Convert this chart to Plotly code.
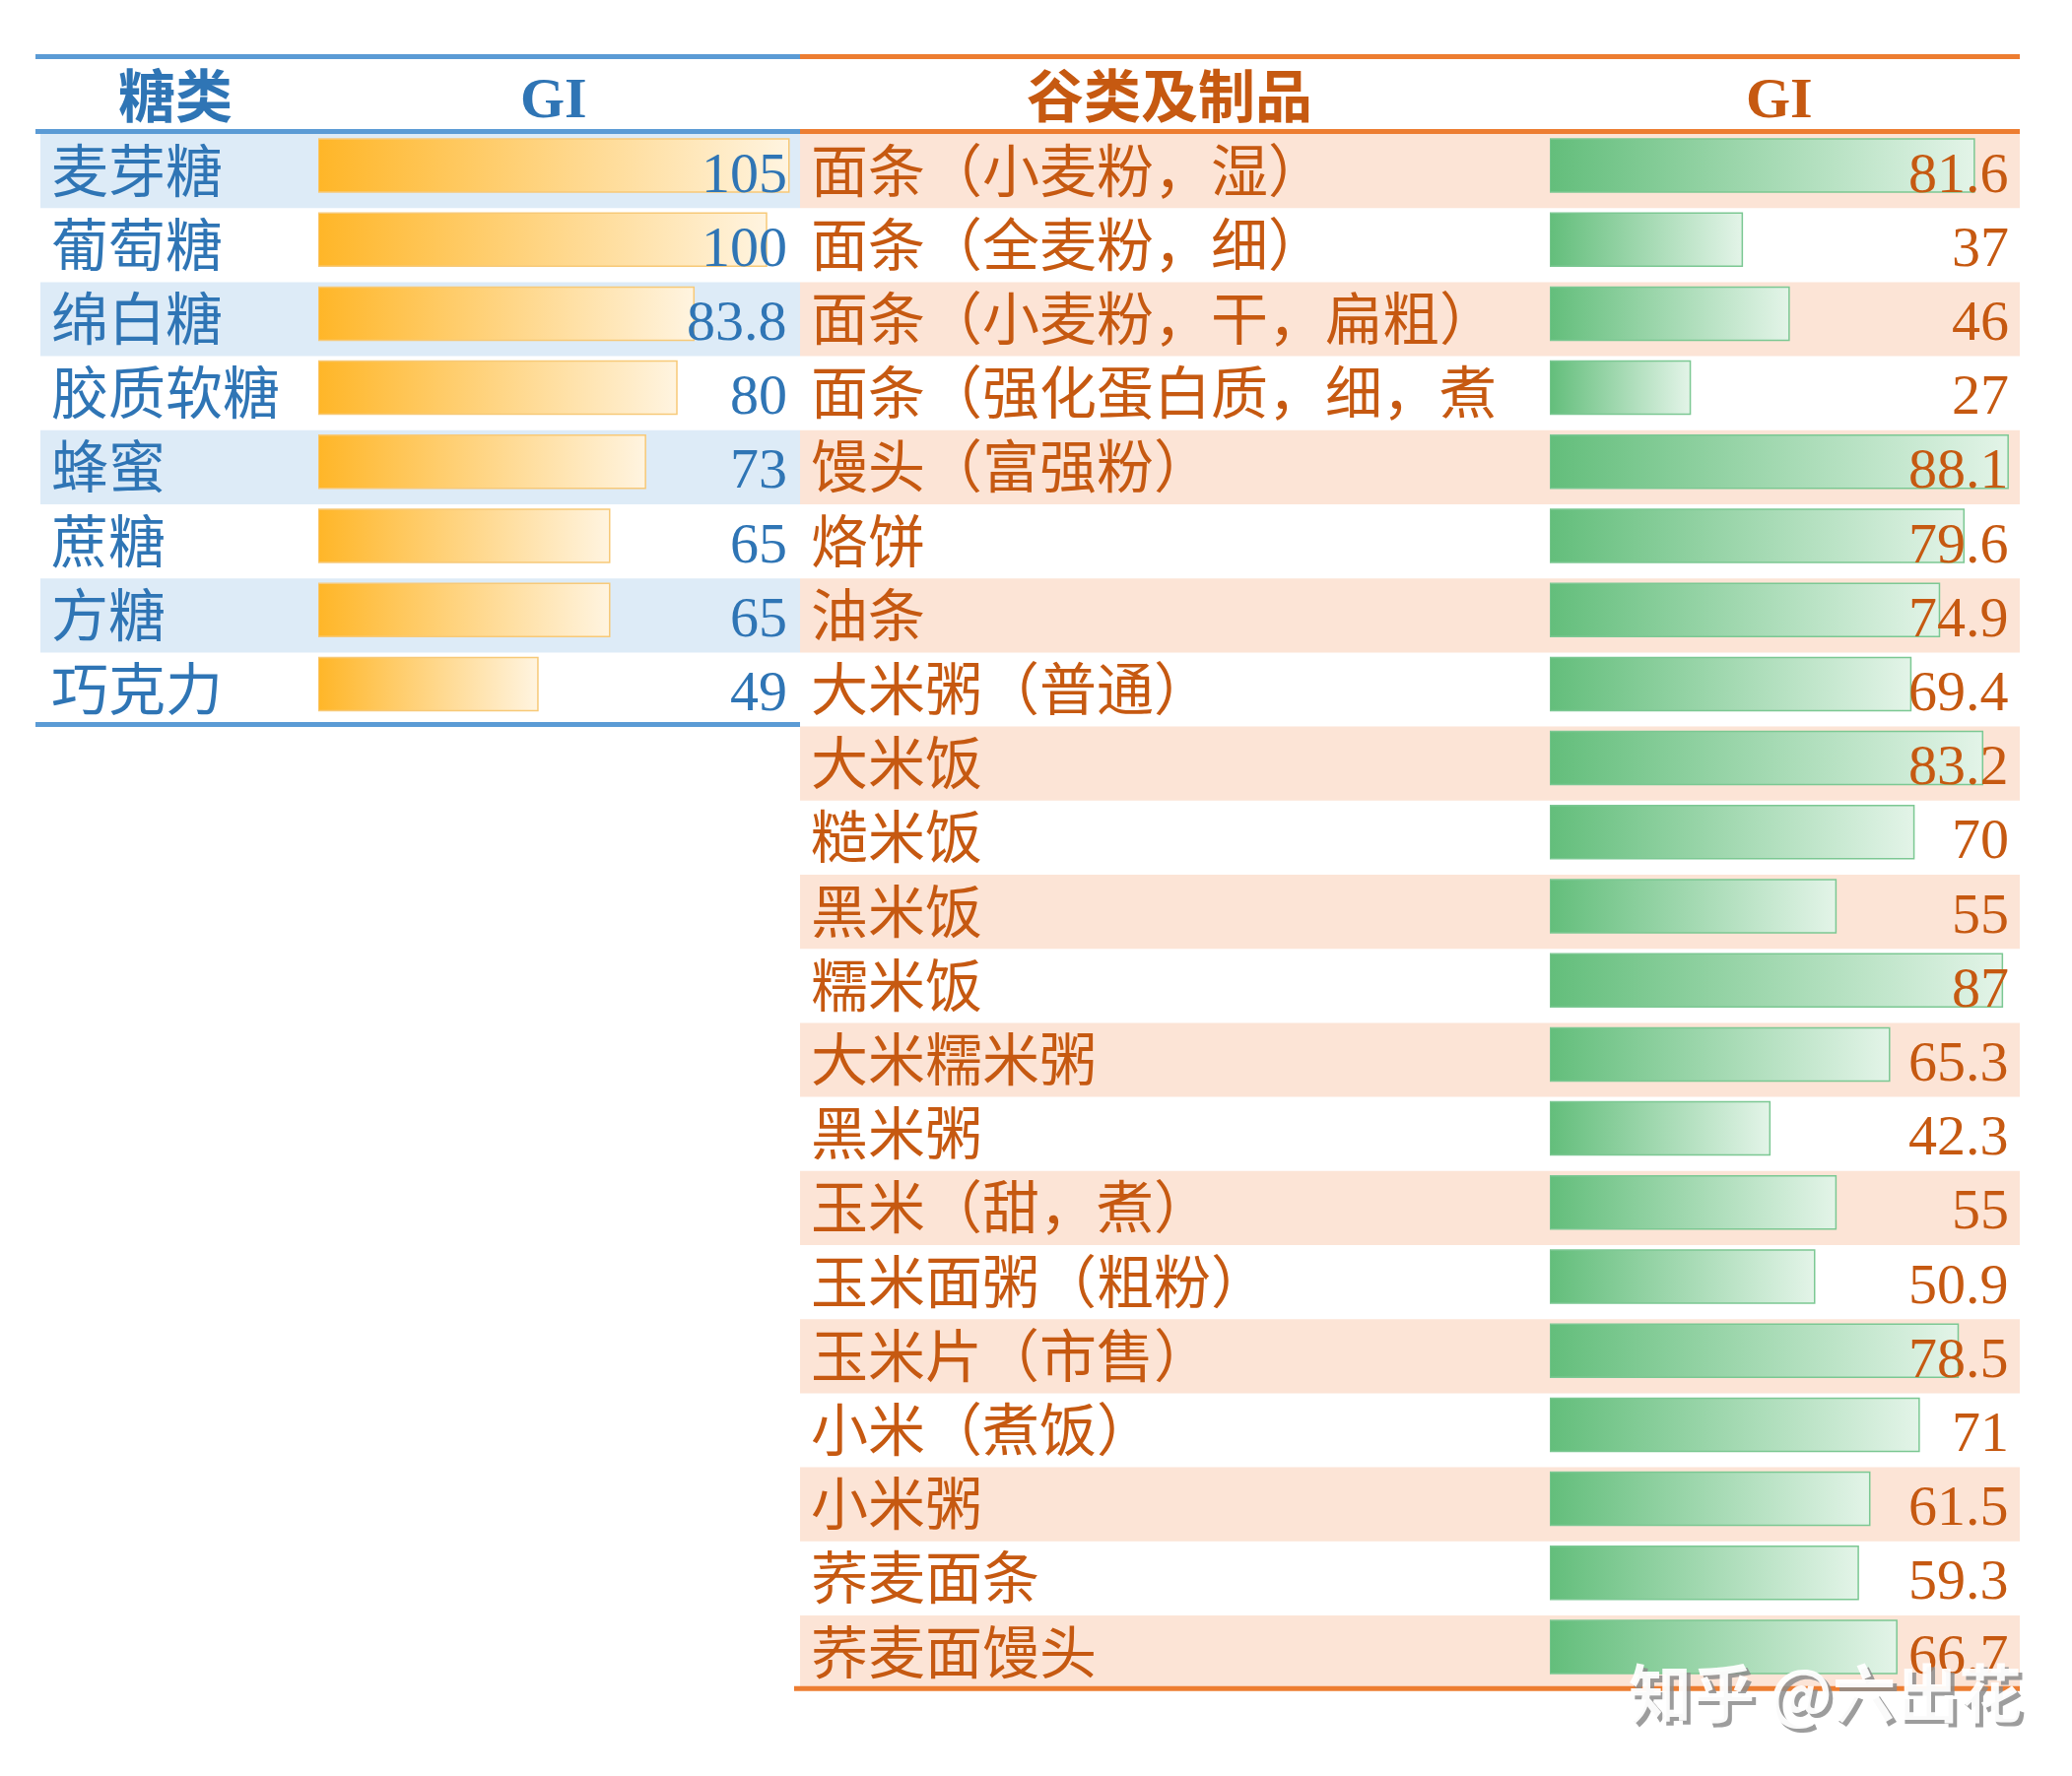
import plotly.graph_objects as go

W, H = 2103, 1803

# ---------------- data ----------------
sugar_names = ["麦芽糖", "葡萄糖", "绵白糖", "胶质软糖", "蜂蜜", "蔗糖", "方糖", "巧克力"]
sugar_gi = [105, 100, 83.8, 80, 73, 65, 65, 49]

grain_names = [
    "面条（小麦粉，湿）", "面条（全麦粉，细）", "面条（小麦粉，干，扁粗）",
    "面条（强化蛋白质，细，煮", "馒头（富强粉）", "烙饼", "油条", "大米粥（普通）",
    "大米饭", "糙米饭", "黑米饭", "糯米饭", "大米糯米粥", "黑米粥", "玉米（甜，煮）",
    "玉米面粥（粗粉）", "玉米片（市售）", "小米（煮饭）", "小米粥", "荞麦面条", "荞麦面馒头",
]
grain_gi = [81.6, 37, 46, 27, 88.1, 79.6, 74.9, 69.4, 83.2, 70, 55, 87, 65.3, 42.3, 55,
            50.9, 78.5, 71, 61.5, 59.3, 66.7]

left_headers = ["糖类", "GI"]
right_headers = ["谷类及制品", "GI"]
watermark = "知乎 @六出花"

# ---------------- styling ----------------
BLUE_LINE = "#5B9BD5"
BLUE_TEXT = "#2F75B5"
BLUE_BAND = "#DDEBF7"
ORANGE_LINE = "#ED7D31"
ORANGE_TEXT = "#C65911"
ORANGE_BAND = "#FCE4D6"
FONT = "Liberation Serif, Noto Sans CJK SC, sans-serif"
FS = 58

ROW_TOP = 136.0
ROW_H = 75.2


def xp(p):
    return p / W


def yp(p):
    return 1 - p / H


fig = go.Figure()


def add_bar(value, row, xaxis, c0, c1, border):
    y0 = row - 0.5 + 5 / ROW_H
    y1 = row - 0.5 + 59 / ROW_H
    fig.add_trace(go.Scatter(
        x=[0, value, value, 0, 0], y=[y0, y0, y1, y1, y0],
        mode="lines", fill="toself",
        fillgradient=dict(type="horizontal", colorscale=[[0, c0], [1, c1]]),
        line=dict(color=border, width=1.5),
        xaxis=xaxis, yaxis="y", hoverinfo="skip", showlegend=False,
    ))


shapes = []
annotations = []

# left table
for i, (name, v) in enumerate(zip(sugar_names, sugar_gi)):
    if i % 2 == 0:
        shapes.append(dict(type="rect", xref="paper", yref="y", x0=xp(41), x1=xp(812),
                           y0=i - 0.5, y1=i + 0.5, fillcolor=BLUE_BAND, line=dict(width=0),
                           layer="below"))
    add_bar(v, i, "x", "#FFB628", "#FFF4E0", "#F7C978")
    annotations.append(dict(xref="paper", yref="y", x=xp(50), y=i + 0.02, text=name,
                            xanchor="left", yanchor="middle", showarrow=False,
                            font=dict(family=FONT, size=FS, color=BLUE_TEXT)))
    annotations.append(dict(xref="paper", yref="y", x=xp(801), y=i + 0.02, text=f"{v:g}",
                            xanchor="right", yanchor="middle", showarrow=False,
                            font=dict(family=FONT, size=FS, color=BLUE_TEXT)))

# right table
for i, (name, v) in enumerate(zip(grain_names, grain_gi)):
    if i % 2 == 0:
        shapes.append(dict(type="rect", xref="paper", yref="y", x0=xp(812), x1=xp(2050),
                           y0=i - 0.5, y1=i + 0.5, fillcolor=ORANGE_BAND, line=dict(width=0),
                           layer="below"))
    add_bar(v, i, "x2", "#63BE7B", "#E3F4E8", "#7CC893")
    annotations.append(dict(xref="paper", yref="y", x=xp(821), y=i + 0.02, text=name,
                            xanchor="left", yanchor="middle", showarrow=False,
                            font=dict(family=FONT, size=FS, color=ORANGE_TEXT)))
    annotations.append(dict(xref="paper", yref="y", x=xp(2041), y=i + 0.02, text=f"{v:g}",
                            xanchor="right", yanchor="middle", showarrow=False,
                            font=dict(family=FONT, size=FS, color=ORANGE_TEXT)))

# headers
for txt, cx, col in [(left_headers[0], 178, BLUE_TEXT), (left_headers[1], 562, BLUE_TEXT),
                     (right_headers[0], 1187, ORANGE_TEXT), (right_headers[1], 1806, ORANGE_TEXT)]:
    annotations.append(dict(xref="paper", yref="paper", x=xp(cx), y=yp(100), text=f"<b>{txt}</b>",
                            xanchor="center", yanchor="middle", showarrow=False,
                            font=dict(family=FONT, size=FS, color=col)))

# rule lines
n_left = len(sugar_names)
n_right = len(grain_names)
left_bottom = ROW_TOP + n_left * ROW_H - 2
right_bottom = ROW_TOP + n_right * ROW_H - 1
for x0, x1, ypx, col in [(36, 812, 57.5, BLUE_LINE), (812, 2050, 57.5, ORANGE_LINE),
                          (36, 812, 133.5, BLUE_LINE), (812, 2050, 133.5, ORANGE_LINE),
                          (36, 812, left_bottom, BLUE_LINE), (806, 2050, right_bottom, ORANGE_LINE)]:
    shapes.append(dict(type="line", xref="paper", yref="paper", x0=xp(x0), x1=xp(x1),
                       y0=yp(ypx), y1=yp(ypx), line=dict(color=col, width=5), layer="above"))

# watermark (shadow + white)
annotations.append(dict(xref="paper", yref="paper", x=xp(1856), y=yp(1719), text=watermark,
                        xanchor="center", yanchor="middle", showarrow=False,
                        font=dict(family="Noto Sans CJK SC", size=64, color="rgba(140,140,140,0.85)",
                                  weight="bold")))
annotations.append(dict(xref="paper", yref="paper", x=xp(1852), y=yp(1715), text=watermark,
                        xanchor="center", yanchor="middle", showarrow=False,
                        font=dict(family="Noto Sans CJK SC", size=64, color="rgba(255,255,255,0.95)",
                                  weight="bold")))

y_top = -ROW_TOP / ROW_H - 0.5
y_bot = (H - ROW_TOP) / ROW_H - 0.5

fig.update_layout(
    width=W, height=H, margin=dict(l=0, r=0, t=0, b=0),
    paper_bgcolor="white", plot_bgcolor="rgba(0,0,0,0)",
    showlegend=False, shapes=shapes, annotations=annotations,
    xaxis=dict(domain=[xp(323), xp(812)], range=[0, 489 / 4.55], visible=False, fixedrange=True),
    xaxis2=dict(domain=[xp(1573), xp(2050)], range=[0, 477 / 5.28], visible=False,
                anchor="y", fixedrange=True),
    yaxis=dict(domain=[0, 1], range=[y_bot, y_top], visible=False, fixedrange=True),
)

fig.write_html("out.html")
